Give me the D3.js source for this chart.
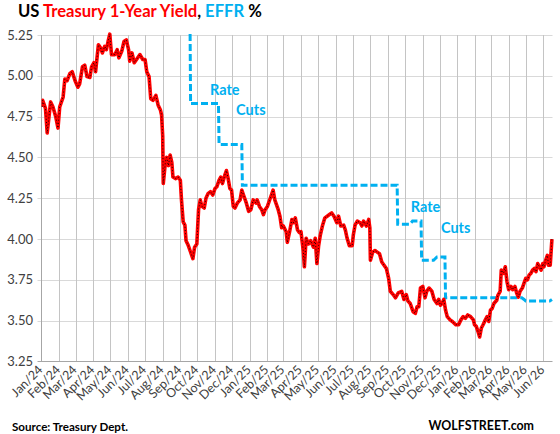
<!DOCTYPE html>
<html>
<head>
<meta charset="utf-8">
<script src="https://cdn.jsdelivr.net/npm/d3@7"></script>
<style>
  html, body { margin: 0; padding: 0; background: #fff; }
  svg { display: block; font-family: Lato, "Open Sans", sans-serif; }
</style>
</head>
<body>
<svg id="chart" width="560" height="434"></svg>
<script>
// 1-year Treasury yield (date, %)
const yieldSeries = [
  ["2024-01-02",4.81],["2024-01-03",4.85],["2024-01-06",4.82],["2024-01-08",4.80],["2024-01-11",4.65],
  ["2024-01-17",4.84],["2024-01-21",4.81],["2024-01-26",4.75],["2024-01-30",4.68],["2024-02-02",4.81],
  ["2024-02-08",4.87],["2024-02-11",4.98],["2024-02-15",4.97],["2024-02-20",5.015],["2024-02-24",5.025],
  ["2024-02-29",4.97],["2024-03-05",4.93],["2024-03-08",4.95],["2024-03-13",5.055],["2024-03-17",5.065],
  ["2024-03-21",4.995],["2024-03-26",4.99],["2024-03-29",5.055],["2024-04-02",5.08],["2024-04-05",5.025],
  ["2024-04-10",5.19],["2024-04-14",5.17],["2024-04-17",5.14],["2024-04-21",5.18],["2024-04-24",5.16],
  ["2024-04-27",5.21],["2024-04-30",5.255],["2024-05-03",5.13],["2024-05-09",5.13],["2024-05-13",5.16],
  ["2024-05-16",5.11],["2024-05-21",5.15],["2024-05-25",5.21],["2024-05-29",5.22],["2024-06-02",5.16],
  ["2024-06-04",5.09],["2024-06-08",5.14],["2024-06-12",5.08],["2024-06-16",5.10],["2024-06-22",5.13],
  ["2024-06-27",5.10],["2024-07-01",5.10],["2024-07-04",5.025],["2024-07-08",4.995],["2024-07-11",4.86],
  ["2024-07-15",4.85],["2024-07-20",4.88],["2024-07-24",4.82],["2024-07-28",4.79],["2024-07-30",4.76],
  ["2024-08-01",4.63],["2024-08-02",4.34],["2024-08-06",4.48],["2024-08-08",4.50],["2024-08-11",4.45],
  ["2024-08-14",4.515],["2024-08-17",4.47],["2024-08-19",4.38],["2024-08-24",4.37],["2024-08-28",4.38],
  ["2024-09-01",4.36],["2024-09-03",4.24],["2024-09-06",4.105],["2024-09-09",4.085],["2024-09-11",3.99],
  ["2024-09-15",3.96],["2024-09-18",3.93],["2024-09-23",3.88],["2024-09-26",3.95],["2024-09-30",3.97],
  ["2024-10-03",4.18],["2024-10-06",4.24],["2024-10-09",4.20],["2024-10-13",4.19],["2024-10-16",4.25],
  ["2024-10-20",4.28],["2024-10-24",4.29],["2024-10-28",4.27],["2024-11-01",4.31],["2024-11-04",4.32],
  ["2024-11-08",4.36],["2024-11-11",4.38],["2024-11-14",4.34],["2024-11-18",4.39],["2024-11-21",4.42],
  ["2024-11-24",4.37],["2024-11-27",4.31],["2024-11-30",4.30],["2024-12-03",4.20],["2024-12-06",4.19],
  ["2024-12-10",4.22],["2024-12-15",4.24],["2024-12-18",4.30],["2024-12-21",4.27],["2024-12-26",4.22],
  ["2024-12-30",4.17],["2025-01-03",4.18],["2025-01-07",4.24],["2025-01-12",4.22],["2025-01-14",4.24],
  ["2025-01-18",4.20],["2025-01-22",4.18],["2025-01-25",4.15],["2025-01-28",4.18],["2025-02-01",4.20],
  ["2025-02-04",4.23],["2025-02-08",4.27],["2025-02-11",4.30],["2025-02-14",4.24],["2025-02-20",4.18],
  ["2025-02-23",4.14],["2025-02-26",4.07],["2025-03-01",4.08],["2025-03-06",4.045],["2025-03-08",3.98],
  ["2025-03-12",4.045],["2025-03-16",4.12],["2025-03-19",4.10],["2025-03-22",4.13],["2025-03-26",4.055],
  ["2025-03-29",4.04],["2025-04-01",4.045],["2025-04-05",3.93],["2025-04-07",3.83],["2025-04-10",4.005],
  ["2025-04-14",3.97],["2025-04-18",3.99],["2025-04-23",3.95],["2025-04-26",4.005],["2025-04-29",3.85],
  ["2025-05-02",3.96],["2025-05-05",4.025],["2025-05-09",4.085],["2025-05-13",4.13],["2025-05-17",4.14],
  ["2025-05-21",4.15],["2025-05-25",4.16],["2025-05-29",4.14],["2025-06-03",4.10],["2025-06-06",4.14],
  ["2025-06-10",4.08],["2025-06-15",4.085],["2025-06-18",4.055],["2025-06-21",4.005],["2025-06-25",3.96],
  ["2025-06-30",3.96],["2025-07-02",4.025],["2025-07-05",4.085],["2025-07-09",4.11],["2025-07-14",4.10],
  ["2025-07-17",4.08],["2025-07-20",4.11],["2025-07-25",4.08],["2025-07-29",4.12],["2025-07-31",4.07],
  ["2025-08-01",3.87],["2025-08-05",3.92],["2025-08-09",3.93],["2025-08-13",3.92],["2025-08-17",3.91],
  ["2025-08-21",3.86],["2025-08-25",3.84],["2025-08-29",3.82],["2025-09-02",3.76],["2025-09-05",3.68],
  ["2025-09-10",3.66],["2025-09-14",3.64],["2025-09-19",3.67],["2025-09-25",3.68],["2025-09-29",3.63],
  ["2025-10-03",3.66],["2025-10-06",3.62],["2025-10-10",3.605],["2025-10-15",3.555],["2025-10-19",3.545],
  ["2025-10-22",3.585],["2025-10-25",3.585],["2025-10-28",3.70],["2025-11-01",3.71],["2025-11-05",3.64],
  ["2025-11-08",3.68],["2025-11-12",3.70],["2025-11-17",3.68],["2025-11-21",3.63],["2025-11-26",3.605],
  ["2025-11-29",3.63],["2025-12-02",3.595],["2025-12-05",3.605],["2025-12-08",3.63],["2025-12-11",3.565],
  ["2025-12-14",3.525],["2025-12-19",3.505],["2025-12-23",3.495],["2025-12-29",3.475],["2026-01-03",3.475],
  ["2026-01-07",3.505],["2026-01-11",3.525],["2026-01-15",3.515],["2026-01-19",3.535],["2026-01-24",3.525],
  ["2026-01-29",3.505],["2026-01-31",3.475],["2026-02-03",3.465],["2026-02-06",3.435],["2026-02-09",3.40],
  ["2026-02-12",3.455],["2026-02-15",3.475],["2026-02-19",3.505],["2026-02-22",3.525],["2026-02-25",3.495],
  ["2026-02-28",3.565],["2026-03-03",3.575],["2026-03-06",3.605],["2026-03-11",3.625],["2026-03-13",3.655],
  ["2026-03-17",3.68],["2026-03-19",3.81],["2026-03-23",3.79],["2026-03-26",3.83],["2026-03-29",3.74],
  ["2026-04-01",3.69],["2026-04-05",3.71],["2026-04-08",3.69],["2026-04-12",3.71],["2026-04-15",3.67],
  ["2026-04-18",3.645],["2026-04-21",3.68],["2026-04-25",3.70],["2026-04-28",3.73],["2026-05-01",3.76],
  ["2026-05-04",3.75],["2026-05-07",3.78],["2026-05-10",3.79],["2026-05-13",3.81],["2026-05-16",3.82],
  ["2026-05-19",3.80],["2026-05-22",3.85],["2026-05-25",3.83],["2026-05-28",3.81],["2026-05-31",3.85],
  ["2026-06-02",3.83],["2026-06-05",3.87],["2026-06-08",3.90],["2026-06-10",3.84],["2026-06-13",3.84],
  ["2026-06-16",4.00]
];

// Effective federal funds rate, step changes
const effrSeries = [
  ["2024-01-02",5.33],["2024-09-18",5.33],["2024-09-19",4.83],["2024-11-07",4.83],
  ["2024-11-08",4.58],["2024-12-18",4.58],["2024-12-19",4.33],["2025-09-17",4.33],
  ["2025-09-18",4.09],["2025-10-09",4.09],["2025-10-14",4.11],["2025-10-29",4.11],
  ["2025-10-30",3.87],["2025-11-20",3.87],["2025-11-26",3.89],["2025-12-10",3.89],
  ["2025-12-11",3.64],["2026-04-24",3.64],["2026-04-28",3.63],["2026-05-01",3.62],
  ["2026-06-12",3.62],["2026-06-16",3.63]
];

const yTicks = [3.25, 3.50, 3.75, 4.00, 4.25, 4.50, 4.75, 5.00, 5.25];
const dateStart = "2024-01-01";
const dateEnd = "2026-06-17";
const rateCutNotes = [
  { date: "2024-10-23", value: 4.88, text: "Rate" },
  { date: "2024-12-08", value: 4.76, text: "Cuts" },
  { date: "2025-10-11", value: 4.163, text: "Rate" },
  { date: "2025-12-03", value: 4.04, text: "Cuts" }
];

const parse = d3.timeParse("%Y-%m-%d");
const svg = d3.select("#chart");

const plotLeft = 41.5, plotRight = 552.5, plotTop = 35, plotBottom = 361.5;

const x = d3.scaleTime()
  .domain([parse(dateStart), parse(dateEnd)])
  .range([plotLeft, plotRight]);

const y = d3.scaleLinear()
  .domain([3.25, 5.25])
  .range([plotBottom, plotTop]);

const months = d3.timeMonth.range(parse(dateStart), parse("2026-06-02"));

// horizontal grid
svg.append("g")
  .selectAll("line")
  .data(yTicks.slice(1))
  .enter()
  .append("line")
  .attr("x1", plotLeft - 4)
  .attr("x2", plotRight)
  .attr("y1", d => Math.round(y(d)) + 0.5)
  .attr("y2", d => Math.round(y(d)) + 0.5)
  .attr("stroke", "#d9d9d9");

// vertical grid
svg.append("g")
  .selectAll("line")
  .data(months.slice(1))
  .enter()
  .append("line")
  .attr("x1", d => Math.round(x(d)) + 0.5)
  .attr("x2", d => Math.round(x(d)) + 0.5)
  .attr("y1", plotTop)
  .attr("y2", plotBottom)
  .attr("stroke", "#c4c4c4");

// axis lines
svg.append("line")
  .attr("x1", plotLeft).attr("x2", plotLeft)
  .attr("y1", plotTop).attr("y2", plotBottom)
  .attr("stroke", "#a6a6a6");
svg.append("line")
  .attr("x1", plotLeft - 4).attr("x2", plotRight)
  .attr("y1", plotBottom).attr("y2", plotBottom)
  .attr("stroke", "#a6a6a6");

// y labels
svg.append("g")
  .selectAll("text")
  .data(yTicks)
  .enter()
  .append("text")
  .attr("x", 33)
  .attr("y", d => y(d))
  .attr("dy", "0.35em")
  .attr("text-anchor", "end")
  .attr("font-size", "13px")
  .attr("fill", "#404040")
  .text(d3.format(".2f"));

// x labels
const fmtMonth = d3.timeFormat("%b/%y");
svg.append("g")
  .selectAll("text")
  .data(months)
  .enter()
  .append("text")
  .attr("transform", d => `translate(${x(d) + 2},${plotBottom + 9}) rotate(-45)`)
  .attr("text-anchor", "end")
  .attr("font-size", "12.5px")
  .attr("fill", "#404040")
  .text(d => fmtMonth(d));

// clip for the lines
svg.append("clipPath")
  .attr("id", "plot-clip")
  .append("rect")
  .attr("x", plotLeft)
  .attr("y", plotTop - 3)
  .attr("width", plotRight - plotLeft + 2)
  .attr("height", plotBottom - plotTop + 3);

const line = d3.line()
  .x(d => x(parse(d[0])))
  .y(d => y(d[1]));

const plot = svg.append("g").attr("clip-path", "url(#plot-clip)");

plot.append("path")
  .datum(effrSeries)
  .attr("d", line)
  .attr("fill", "none")
  .attr("stroke", "#00b0f0")
  .attr("stroke-width", 3)
  .attr("stroke-dasharray", "7,3");

plot.append("path")
  .datum(yieldSeries)
  .attr("d", line)
  .attr("fill", "none")
  .attr("stroke", "#ff0000")
  .attr("stroke-width", 3.6)
  .attr("stroke-linejoin", "round");

// black point markers, like the source's tiny dots
plot.append("path")
  .datum(yieldSeries)
  .attr("d", line)
  .attr("fill", "none")
  .attr("stroke", "#1a0000")
  .attr("stroke-width", 1)
  .attr("stroke-dasharray", "1,2.2");

// rate cut notes
svg.append("g")
  .selectAll("text")
  .data(rateCutNotes)
  .enter()
  .append("text")
  .attr("x", d => x(parse(d.date)))
  .attr("y", d => y(d.value))
  .attr("font-size", "14.5px")
  .attr("font-weight", "bold")
  .attr("fill", "#00b0f0")
  .text(d => d.text);

// title
const title = svg.append("text")
  .attr("x", 18)
  .attr("y", 17)
  .attr("font-size", "16.6px")
  .attr("font-weight", "bold");
title.append("tspan").attr("fill", "#000").text("US ");
title.append("tspan").attr("fill", "#ff0000").text("Treasury 1-Year Yield");
title.append("tspan").attr("fill", "#000").text(", ");
title.append("tspan").attr("fill", "#00b0f0").text("EFFR");
title.append("tspan").attr("fill", "#000").text(" %");

svg.append("text")
  .attr("x", 12)
  .attr("y", 431)
  .attr("font-size", "11.6px")
  .attr("font-weight", "bold")
  .attr("fill", "#000")
  .text("Source: Treasury Dept.");

svg.append("text")
  .attr("x", 534)
  .attr("y", 430)
  .attr("text-anchor", "end")
  .attr("font-size", "12.4px")
  .attr("font-weight", "bold")
  .attr("fill", "#000")
  .text("WOLFSTREET.com");
</script>
</body>
</html>
